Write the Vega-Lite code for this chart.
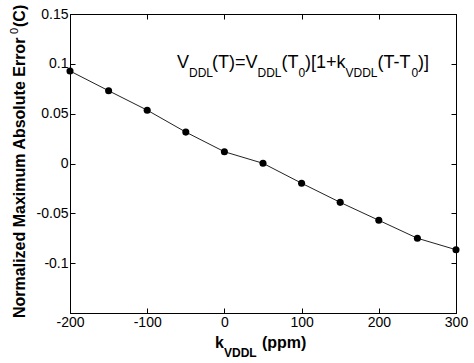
{
  "$schema": "https://vega.github.io/schema/vega-lite/v6.json",
  "width": 386,
  "height": 299,
  "autosize": {"type": "none"},
  "padding": {"left": 70, "top": 14, "right": 18, "bottom": 50},
  "background": "white",
  "config": {
    "view": {"stroke": "black", "strokeWidth": 1},
    "font": "Liberation Sans",
    "axis": {
      "domainColor": "black",
      "tickColor": "black",
      "labelColor": "black",
      "labelFont": "Liberation Sans",
      "labelFontSize": 14,
      "labelFlush": false,
      "labelOverlap": false,
      "grid": false,
      "tickSize": -5,
      "title": null
    }
  },
  "data": {
    "values": [
      {"k": -200, "err": 0.0928},
      {"k": -150, "err": 0.073},
      {"k": -100, "err": 0.0535},
      {"k": -50, "err": 0.0315},
      {"k": 0, "err": 0.0118},
      {"k": 50, "err": 0.0002},
      {"k": 100, "err": -0.0198},
      {"k": 150, "err": -0.039},
      {"k": 200, "err": -0.057},
      {"k": 250, "err": -0.075},
      {"k": 300, "err": -0.0865}
    ]
  },
  "layer": [
    {
      "mark": {"type": "line", "color": "#222222", "strokeWidth": 1},
      "encoding": {
        "x": {"field": "k", "type": "quantitative", "scale": {"domain": [-200, 300], "nice": false, "zero": false},
          "axis": {"orient": "bottom", "values": [-200, -100, 0, 100, 200, 300], "labelPadding": 7, "labelExpr": "replace(format(datum.value, '~g'), '\u2212', '-')"}},
        "y": {"field": "err", "type": "quantitative", "scale": {"domain": [-0.15, 0.15], "nice": false, "zero": false},
          "axis": {"orient": "left", "values": [-0.1, -0.05, 0, 0.05, 0.1, 0.15], "labelPadding": 7, "labelExpr": "replace(format(datum.value, '~g'), '\u2212', '-')"}}
      }
    },
    {
      "mark": {"type": "point", "filled": true, "color": "black", "opacity": 1, "size": 50},
      "encoding": {
        "x": {"field": "k", "type": "quantitative",
          "axis": {"orient": "top", "values": [-200, -100, 0, 100, 200, 300], "labels": false}},
        "y": {"field": "err", "type": "quantitative",
          "axis": {"orient": "right", "values": [-0.1, -0.05, 0, 0.05, 0.1, 0.15], "labels": false}}
      }
    },
    {"data": {"values": [{}]}, "mark": {"type": "text", "text": "V", "fontSize": 18, "align": "left", "baseline": "alphabetic", "dx": 0},
      "encoding": {"x": {"datum": -61.4, "axis": null}, "y": {"datum": 0.0958, "axis": null}}},
    {"data": {"values": [{}]}, "mark": {"type": "text", "text": "DDL", "fontSize": 12, "align": "left", "baseline": "alphabetic", "dx": 12, "dy": 9},
      "encoding": {"x": {"datum": -61.4, "axis": null}, "y": {"datum": 0.0958, "axis": null}}},
    {"data": {"values": [{}]}, "mark": {"type": "text", "text": "(T)=V", "fontSize": 18, "align": "left", "baseline": "alphabetic", "dx": 35},
      "encoding": {"x": {"datum": -61.4, "axis": null}, "y": {"datum": 0.0958, "axis": null}}},
    {"data": {"values": [{}]}, "mark": {"type": "text", "text": "DDL", "fontSize": 12, "align": "left", "baseline": "alphabetic", "dx": 80.5, "dy": 9},
      "encoding": {"x": {"datum": -61.4, "axis": null}, "y": {"datum": 0.0958, "axis": null}}},
    {"data": {"values": [{}]}, "mark": {"type": "text", "text": "(T", "fontSize": 18, "align": "left", "baseline": "alphabetic", "dx": 104.5},
      "encoding": {"x": {"datum": -61.4, "axis": null}, "y": {"datum": 0.0958, "axis": null}}},
    {"data": {"values": [{}]}, "mark": {"type": "text", "text": "0", "fontSize": 12, "align": "left", "baseline": "alphabetic", "dx": 121.5, "dy": 9},
      "encoding": {"x": {"datum": -61.4, "axis": null}, "y": {"datum": 0.0958, "axis": null}}},
    {"data": {"values": [{}]}, "mark": {"type": "text", "text": ")[1+k", "fontSize": 18, "align": "left", "baseline": "alphabetic", "dx": 128},
      "encoding": {"x": {"datum": -61.4, "axis": null}, "y": {"datum": 0.0958, "axis": null}}},
    {"data": {"values": [{}]}, "mark": {"type": "text", "text": "VDDL", "fontSize": 12, "align": "left", "baseline": "alphabetic", "dx": 168.5, "dy": 9},
      "encoding": {"x": {"datum": -61.4, "axis": null}, "y": {"datum": 0.0958, "axis": null}}},
    {"data": {"values": [{}]}, "mark": {"type": "text", "text": "(T-T", "fontSize": 18, "align": "left", "baseline": "alphabetic", "dx": 200.5},
      "encoding": {"x": {"datum": -61.4, "axis": null}, "y": {"datum": 0.0958, "axis": null}}},
    {"data": {"values": [{}]}, "mark": {"type": "text", "text": "0", "fontSize": 12, "align": "left", "baseline": "alphabetic", "dx": 234.5, "dy": 9},
      "encoding": {"x": {"datum": -61.4, "axis": null}, "y": {"datum": 0.0958, "axis": null}}},
    {"data": {"values": [{}]}, "mark": {"type": "text", "text": ")]", "fontSize": 18, "align": "left", "baseline": "alphabetic", "dx": 241},
      "encoding": {"x": {"datum": -61.4, "axis": null}, "y": {"datum": 0.0958, "axis": null}}},
    {"data": {"values": [{}]}, "mark": {"type": "text", "text": "k", "fontSize": 16, "fontWeight": "bold", "align": "left", "baseline": "alphabetic", "dx": 0},
      "encoding": {"x": {"datum": -12.2, "axis": null}, "y": {"datum": -0.1851, "axis": null}}},
    {"data": {"values": [{}]}, "mark": {"type": "text", "text": "VDDL", "fontSize": 12, "fontWeight": "bold", "align": "left", "baseline": "alphabetic", "dx": 9, "dy": 9},
      "encoding": {"x": {"datum": -12.2, "axis": null}, "y": {"datum": -0.1851, "axis": null}}},
    {"data": {"values": [{}]}, "mark": {"type": "text", "text": "(ppm)", "fontSize": 16, "fontWeight": "bold", "align": "left", "baseline": "alphabetic", "dx": 47},
      "encoding": {"x": {"datum": -12.2, "axis": null}, "y": {"datum": -0.1851, "axis": null}}},
    {"data": {"values": [{}]}, "mark": {"type": "text", "text": "Normalized Maximum Absolute Error", "fontSize": 16, "fontWeight": "bold", "angle": 270, "align": "left", "baseline": "alphabetic", "dx": 0},
      "encoding": {"x": {"datum": -258.3, "axis": null}, "y": {"datum": -0.155, "axis": null}}},
    {"data": {"values": [{}]}, "mark": {"type": "text", "text": "0", "fontSize": 11, "angle": 270, "align": "left", "baseline": "alphabetic", "dx": 284, "dy": -7},
      "encoding": {"x": {"datum": -258.3, "axis": null}, "y": {"datum": -0.155, "axis": null}}},
    {"data": {"values": [{}]}, "mark": {"type": "text", "text": "(C)", "fontSize": 16, "fontWeight": "bold", "angle": 270, "align": "left", "baseline": "alphabetic", "dx": 291},
      "encoding": {"x": {"datum": -258.3, "axis": null}, "y": {"datum": -0.155, "axis": null}}}
  ],
  "resolve": {"axis": {"x": "independent", "y": "independent"}}
}
